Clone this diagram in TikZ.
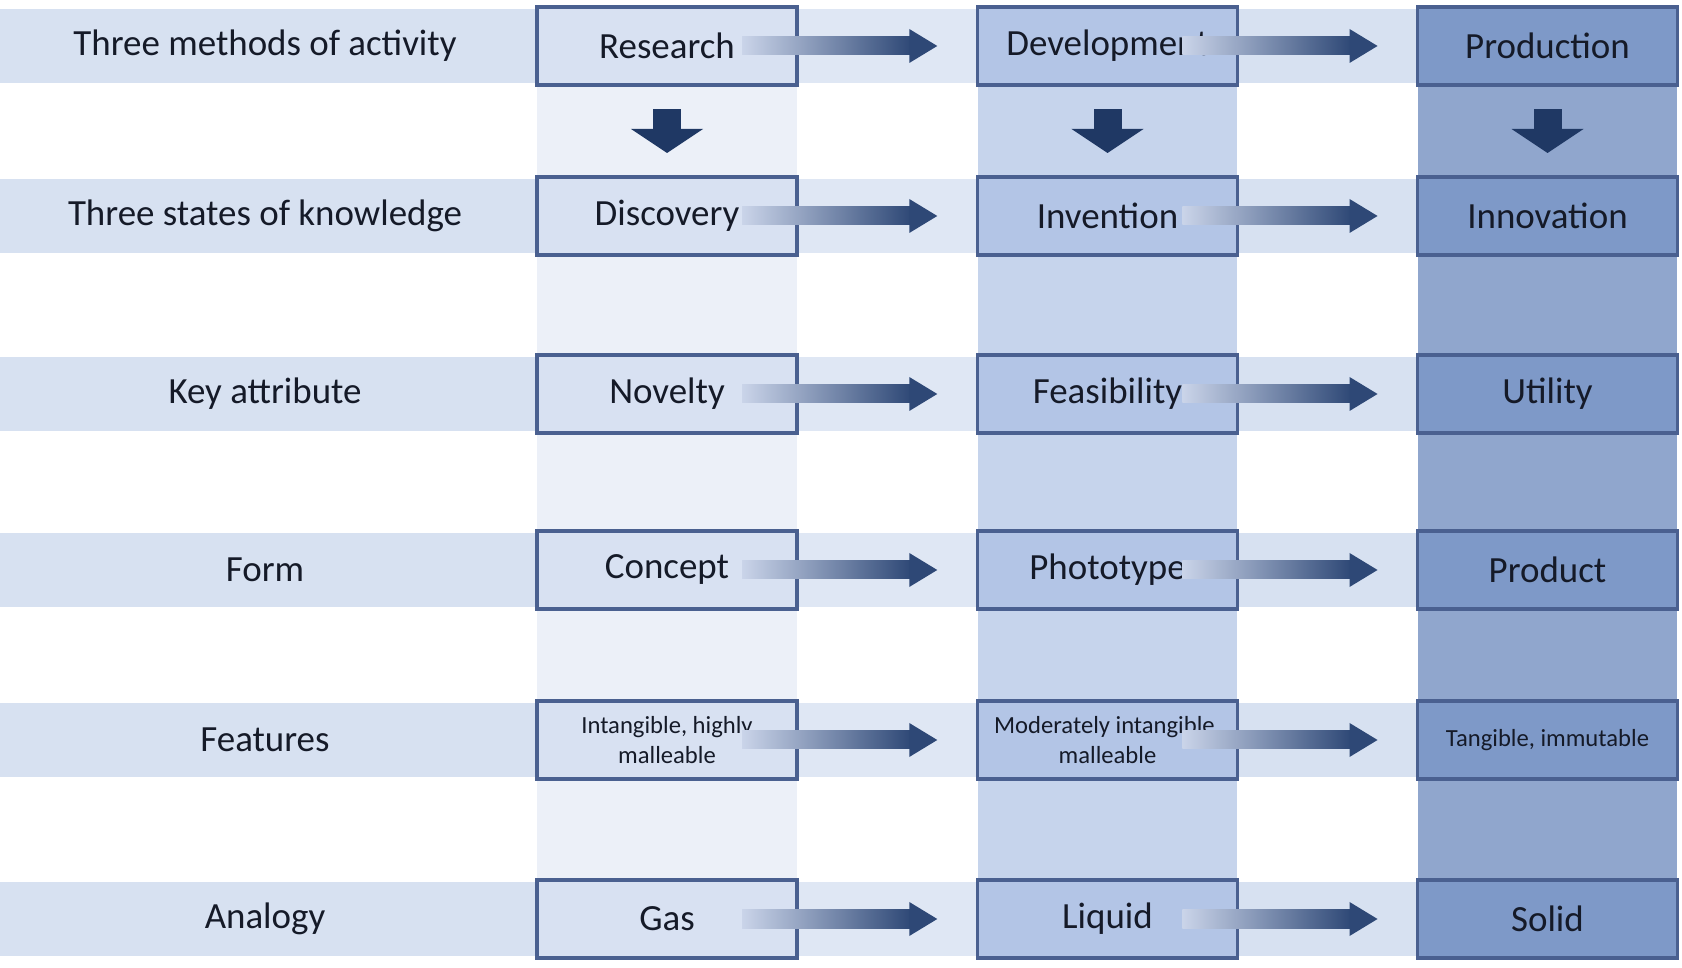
\documentclass[tikz,border=0pt]{standalone}
\usepackage{fontspec}
\setmainfont{Carlito}
\begin{document}
\begin{tikzpicture}[x=0.01cm,y=-0.01cm,
  cell/.style={draw=boxline,line width=1pt,minimum width=2.6cm,minimum height=0.78cm,inner sep=0pt,font=\fontsize{10.5}{12}\selectfont,text=txt,align=center},
  lab/.style={font=\fontsize{10.5}{12}\selectfont,text=txt},
  small/.style={font=\fontsize{7}{8.6}\selectfont}]
\definecolor{rowc}{HTML}{D7E1F1}
\definecolor{colA}{HTML}{ECF0F8}
\definecolor{colB}{HTML}{C6D4EC}
\definecolor{colC}{HTML}{90A6CD}
\definecolor{boxA}{HTML}{D8E1F2}
\definecolor{boxB}{HTML}{B3C5E6}
\definecolor{boxC}{HTML}{7E99C8}
\definecolor{boxline}{HTML}{4A6090}
\definecolor{arr}{HTML}{2E4876}
\definecolor{arrl}{HTML}{CAD4E9}
\definecolor{darr}{HTML}{1F3864}
\definecolor{txt}{HTML}{151A28}
\useasboundingbox (0,0) rectangle (1682,968);
\fill[white] (0,0) rectangle (1682,968);
% column bands
\fill[colA] (537,6) rectangle (797,959);
\fill[colB] (978,6) rectangle (1237,959);
\fill[colC] (1418,6) rectangle (1677,959);
% rows
\foreach \y in {46,216,394,570,740,919}{
  \fill[rowc] (0,\y-37) rectangle (1677,\y+37);
  \fill[rowc!60!colA] (797,\y-37) rectangle (978,\y+37);
  \fill[rowc] (1237,\y-37) rectangle (1418,\y+37);
}
\foreach \n/\y/\t/\a/\b/\c in {
  r1/46/Three methods of activity/Research/Development/Production,
  r2/216/Three states of knowledge/Discovery/Invention/Innovation,
  r3/394/Key attribute/Novelty/Feasibility/Utility,
  r4/570/Form/Concept/Phototype/Product,
  r6/919/Analogy/Gas/Liquid/Solid}{
  \node[lab] (\n l) at (265,\y) {\t};
  \node[cell,fill=boxA] (\n a) at (667,\y) {\a};
  \node[cell,fill=boxB] (\n b) at (1107.5,\y) {\b};
  \node[cell,fill=boxC] (\n c) at (1547.5,\y) {\c};
}
\node[lab] (r5l) at (265,740) {Features};
\node[cell,fill=boxA,small] (r5a) at (667,740) {Intangible, highly\\malleable};
\node[cell,fill=boxB,small] (r5b) at (1107.5,740) {Moderately intangible,\\malleable};
\node[cell,fill=boxC,small] (r5c) at (1547.5,740) {Tangible, immutable};
% right block arrows
\foreach \r in {r1,r2,r3,r4,r5,r6}{
  \foreach \p/\q in {a/b,b/c}{
    \path (\r\p.east) -- (\r\q.west) coordinate[midway] (m);
    \shade[left color=arrl,right color=arr] ([xshift=-1.45cm,yshift=-0.09cm]m) rectangle ([xshift=0.24cm,yshift=0.09cm]m);
    \fill[arr] ([xshift=0.22cm,yshift=-0.17cm]m) -- ([xshift=0.5cm]m) -- ([xshift=0.22cm,yshift=0.17cm]m) -- cycle;
  }
}
% down arrows
\foreach \q in {a,b,c}{
  \path (r1\q.south) -- (r2\q.north) coordinate[midway] (d);
  \fill[darr] ([xshift=-0.14cm,yshift=0.22cm]d) rectangle ([xshift=0.14cm,yshift=0.01cm]d);
  \fill[darr] ([xshift=-0.36cm,yshift=0.02cm]d) -- ([xshift=0.36cm,yshift=0.02cm]d) -- ([yshift=-0.22cm]d) -- cycle;
}
\end{tikzpicture}
\end{document}
